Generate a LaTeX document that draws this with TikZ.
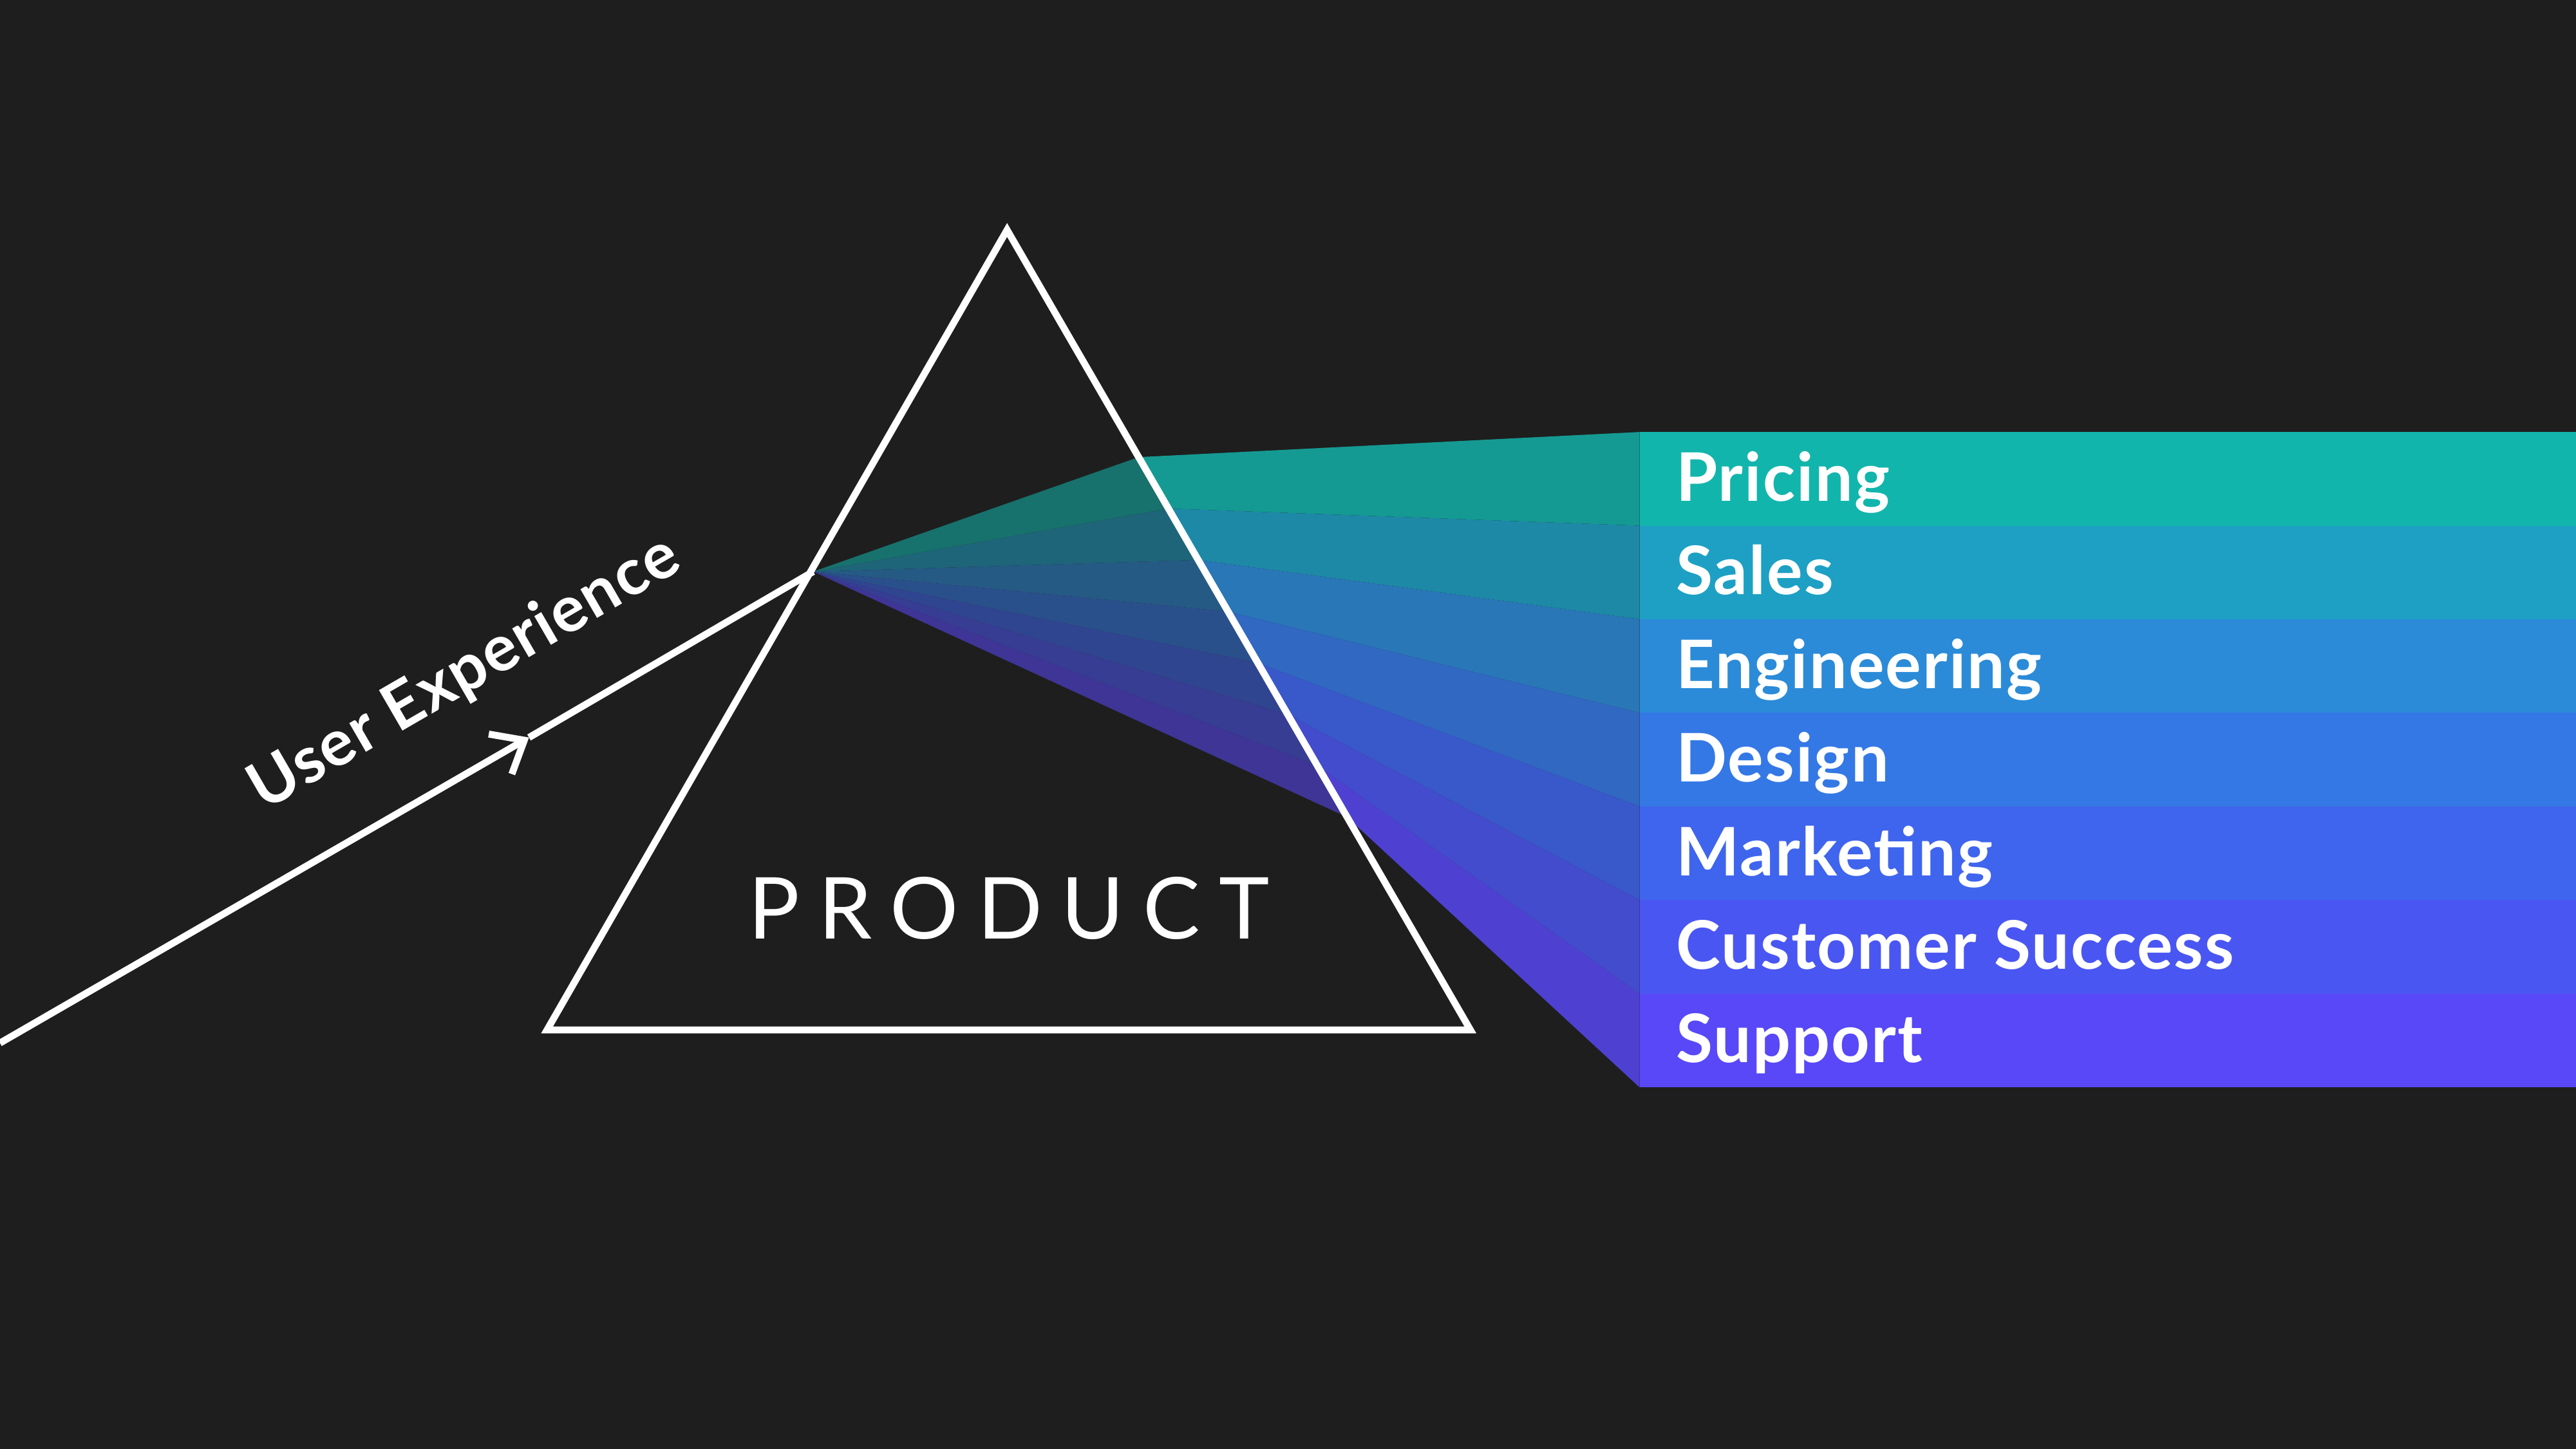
\documentclass[tikz,border=0pt]{standalone}
\usepackage{fontspec}
\setmainfont{Lato}
\usetikzlibrary{arrows.meta}
\definecolor{bg}{HTML}{1E1E1E}
\definecolor{c0}{HTML}{12B5AC}
\definecolor{c1}{HTML}{1DA0C4}
\definecolor{c2}{HTML}{2B8BD8}
\definecolor{c3}{HTML}{3478E6}
\definecolor{c4}{HTML}{3F65EE}
\definecolor{c5}{HTML}{4A56F2}
\definecolor{c6}{HTML}{5848F8}
\tikzset{wline/.style={draw=white,line width=3pt},
 lbl/.style={anchor=base west,text=white,font=\bfseries\fontsize{29}{30}\selectfont\addfontfeatures{LetterSpace=2},inner sep=0pt}}
\begin{document}
\begin{tikzpicture}[x=0.025cm,y=-0.025cm]
\fill[bg] (0,0) rectangle (1568,882);
\useasboundingbox (0,0) rectangle (1568,882);
\coordinate (O) at (495,348);
\foreach \i/\px/\py/\qx/\qy/\b in {0/693.1/278.3/711.2/309.6/263,1/711.2/309.6/729.4/340.9/320,2/729.4/340.9/747.5/372.3/377,3/747.5/372.3/765.6/403.6/434,4/765.6/403.6/783.7/434.9/491,5/783.7/434.9/801.9/466.2/548,6/801.9/466.2/820/497.5/605}{
  \pgfmathsetmacro{\bb}{\b+57}
  \fill[c\i!55!bg] (O) -- (\px,\py) -- (\qx,\qy) -- cycle;
  \fill[c\i!82!bg] (\px,\py) -- (998,\b) -- (998,\bb) -- (\qx,\qy) -- cycle;
  \fill[c\i] (998,\b) rectangle (1568,\bb);
}
\node[lbl] (l0) at (1020,305) {Pricing};
\node[lbl] (l1) at (1020,362) {Sales};
\node[lbl] (l2) at (1020,419) {Engineering};
\node[lbl] (l3) at (1020,476) {Design};
\node[lbl] (l4) at (1020,533) {Marketing};
\node[lbl] (l5) at (1020,590) {Customer Success};
\node[lbl] (l6) at (1020,647) {Support};
\coordinate (A) at (613,140);
\coordinate (B) at (333,627);
\coordinate (C) at (895,627);
\draw[wline,line join=miter] (A) -- (B) -- (C) -- cycle;
\coordinate (S) at (0,635);
\coordinate (M) at (322,449);
\draw[wline,-{Straight Barb[length=12pt,width=20pt,line width=3pt]}] (S) -- (M);
\draw[wline] (M) -- (O);
\node[text=white,font=\bfseries\fontsize{28}{30}\selectfont\addfontfeatures{LetterSpace=2},rotate=30.1] (ux) at (283,410) {User Experience};
\node[text=white,font=\fontsize{37}{40}\selectfont\addfontfeatures{LetterSpace=22}] (prod) at (614,553) {PRODUCT};
\end{tikzpicture}
\end{document}
